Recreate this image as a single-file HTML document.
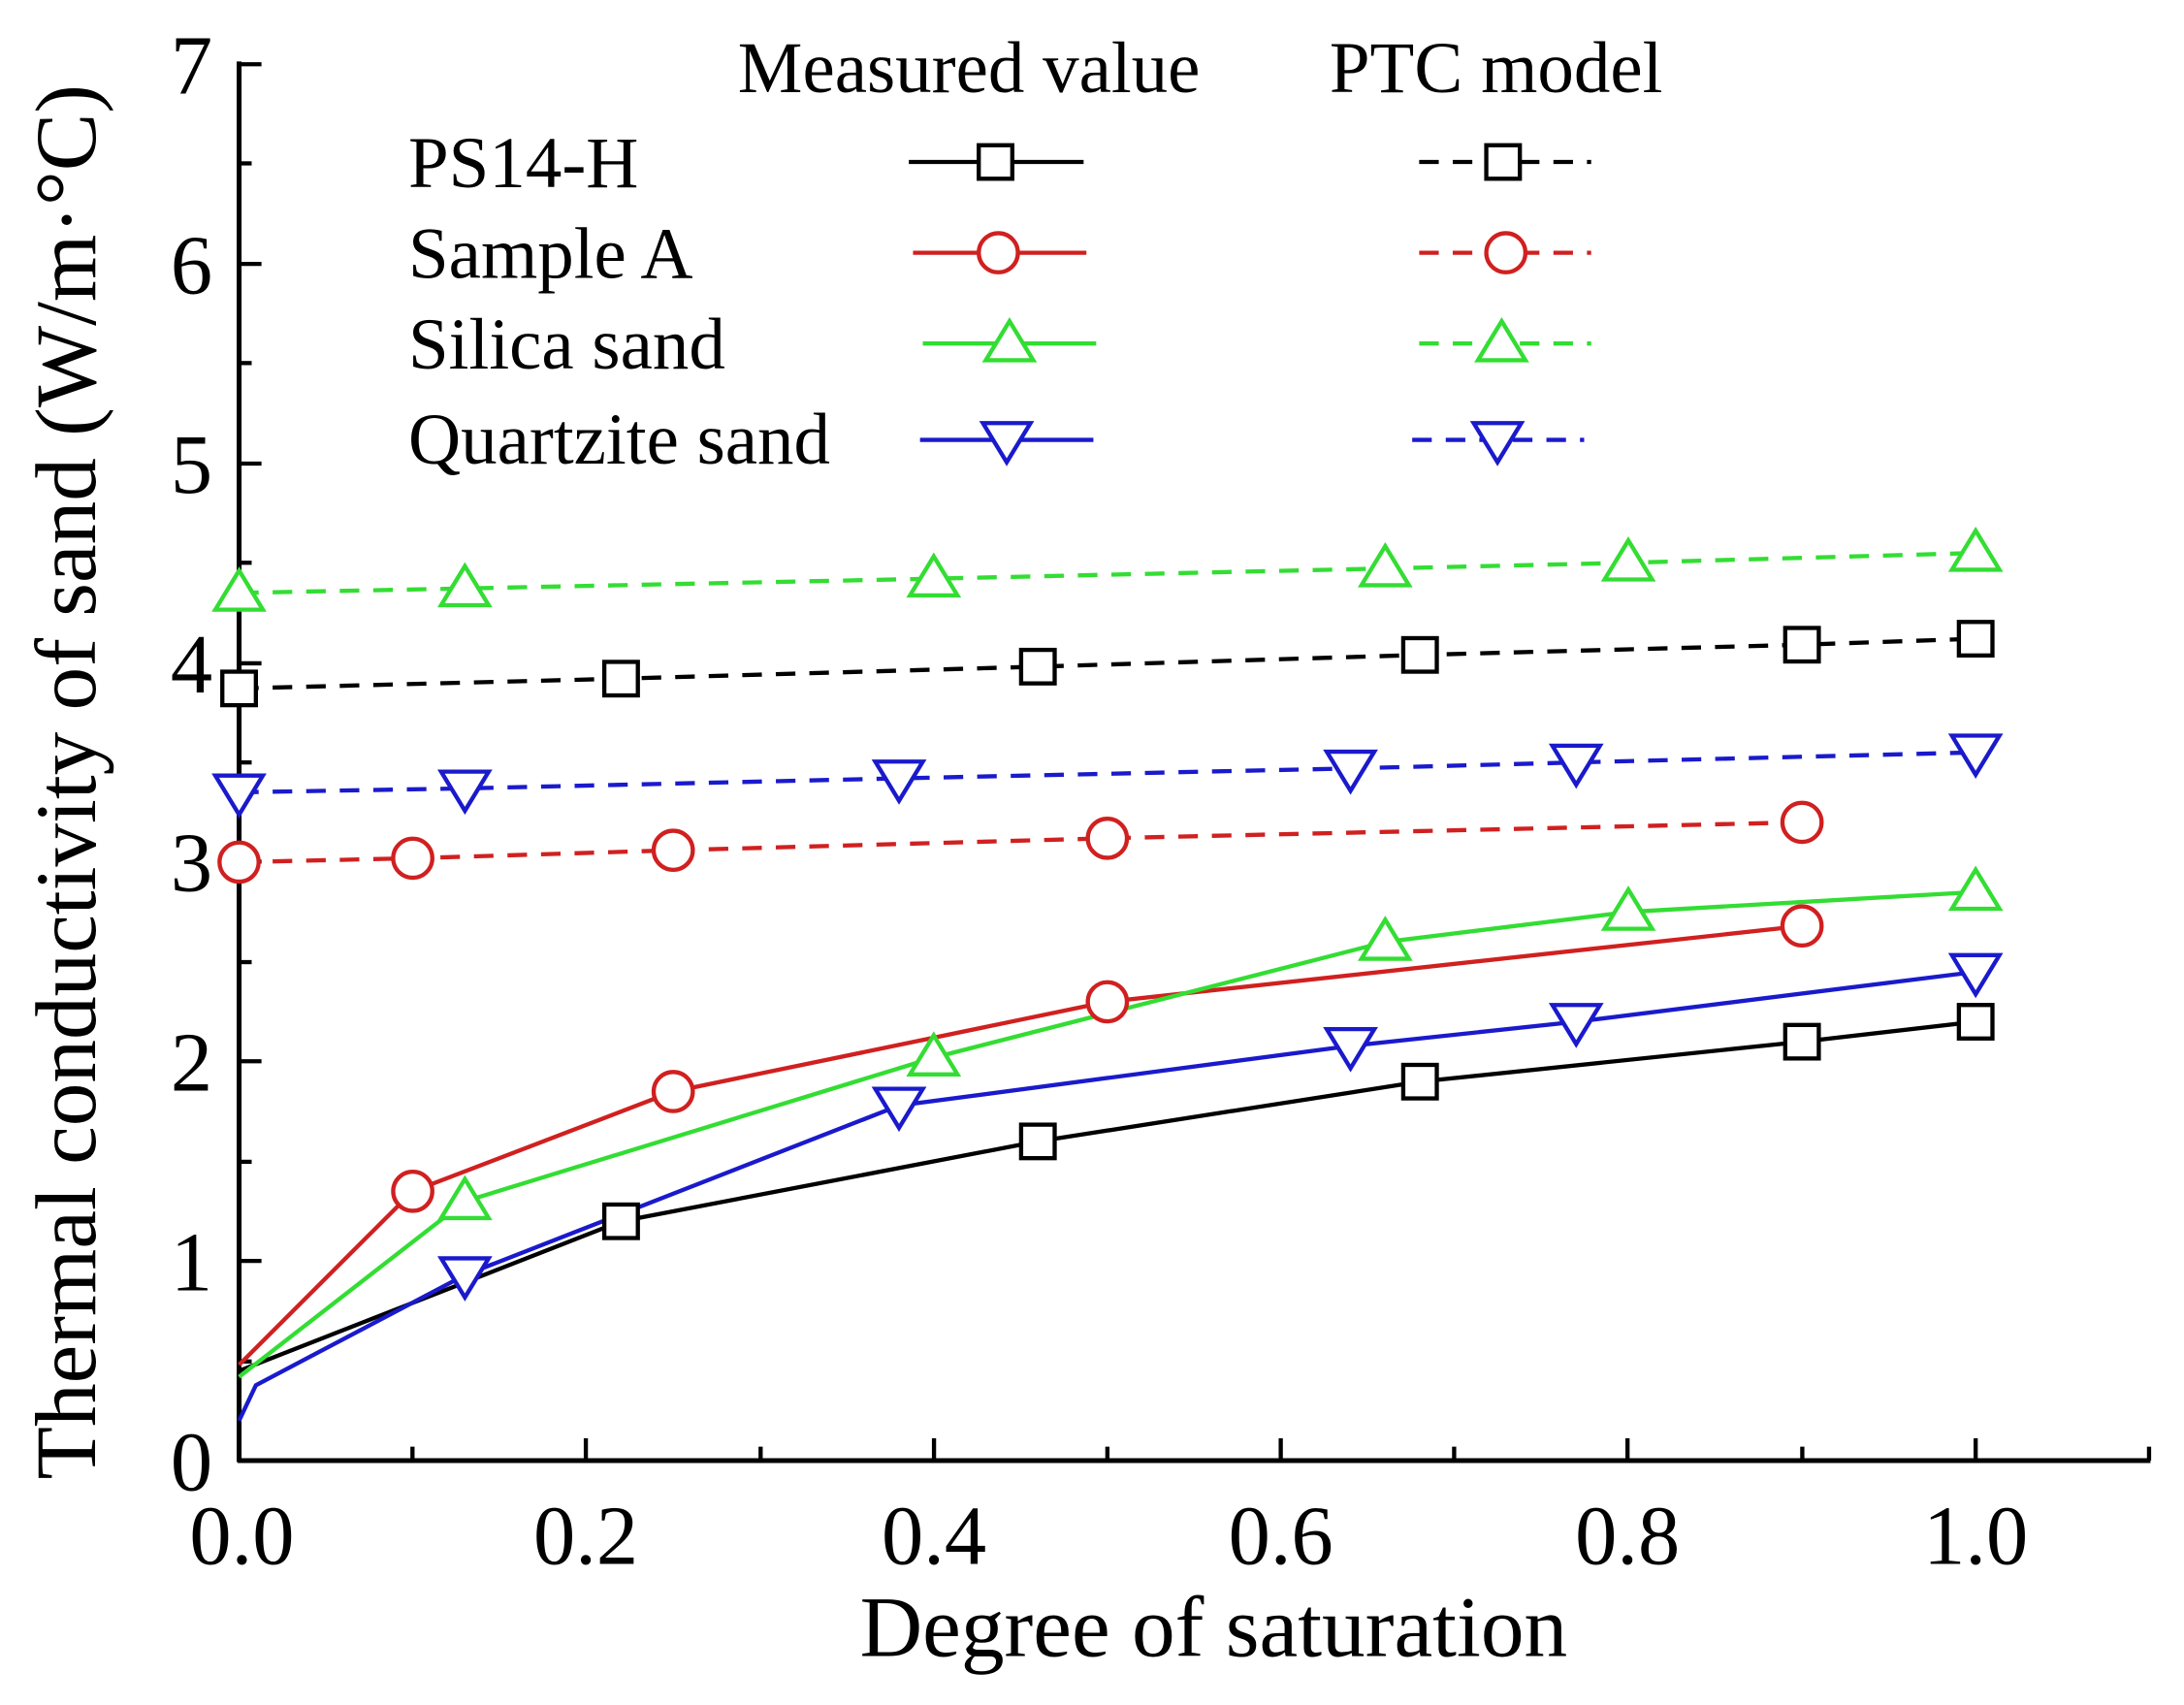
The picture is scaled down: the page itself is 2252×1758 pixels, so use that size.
<!DOCTYPE html>
<html><head><style>html,body{margin:0;padding:0;background:#fff}svg{display:block}</style></head><body>
<svg width="2252" height="1758" viewBox="0 0 1562 1221" preserveAspectRatio="none" xmlns="http://www.w3.org/2000/svg" font-family="Liberation Serif, serif">
<defs>
<g id="sq"><rect x="-12" y="-12" width="24" height="24" fill="#fff" stroke-width="3"/></g>
<g id="ci"><circle r="14" fill="#fff" stroke-width="3"/></g>
<g id="tu"><polygon points="0,-16 17,12 -17,12" fill="#fff" stroke-width="3"/></g>
<g id="td"><polygon points="0,16 17,-12 -17,-12" fill="#fff" stroke-width="3"/></g>
</defs>
<g stroke="#000" stroke-width="3.5" fill="none">
<line x1="171" y1="44" x2="171" y2="1047"/>
<line x1="170" y1="1046" x2="1538" y2="1046"/>
</g>
<g stroke="#000" stroke-width="3">
<line x1="171" y1="46" x2="187" y2="46"/><line x1="171" y1="189" x2="187" y2="189"/><line x1="171" y1="332" x2="187" y2="332"/><line x1="171" y1="475" x2="187" y2="475"/><line x1="171" y1="617" x2="187" y2="617"/><line x1="171" y1="760" x2="187" y2="760"/><line x1="171" y1="903" x2="187" y2="903"/>
<line x1="171" y1="117" x2="180" y2="117"/><line x1="171" y1="260" x2="180" y2="260"/><line x1="171" y1="403" x2="180" y2="403"/><line x1="171" y1="546" x2="180" y2="546"/><line x1="171" y1="689" x2="180" y2="689"/><line x1="171" y1="832" x2="180" y2="832"/><line x1="171" y1="975" x2="180" y2="975"/>
<line x1="419" y1="1046" x2="419" y2="1030"/><line x1="668" y1="1046" x2="668" y2="1030"/><line x1="916" y1="1046" x2="916" y2="1030"/><line x1="1164" y1="1046" x2="1164" y2="1030"/><line x1="1413" y1="1046" x2="1413" y2="1030"/>
<line x1="295" y1="1046" x2="295" y2="1036"/><line x1="544" y1="1046" x2="544" y2="1036"/><line x1="792" y1="1046" x2="792" y2="1036"/><line x1="1040" y1="1046" x2="1040" y2="1036"/><line x1="1289" y1="1046" x2="1289" y2="1036"/><line x1="1537" y1="1046" x2="1537" y2="1036"/>
</g>
<g font-size="60" text-anchor="end">
<text x="152" y="67">7</text><text x="152" y="210">6</text><text x="152" y="353">5</text><text x="152" y="496">4</text><text x="152" y="638">3</text><text x="152" y="781">2</text><text x="152" y="924">1</text><text x="152" y="1067">0</text>
</g>
<g font-size="60" text-anchor="middle">
<text x="173" y="1120">0.0</text><text x="419" y="1120">0.2</text><text x="668" y="1120">0.4</text><text x="916" y="1120">0.6</text><text x="1164" y="1120">0.8</text><text x="1413" y="1120">1.0</text>
</g>
<text x="868" y="1186" font-size="62" text-anchor="middle">Degree of saturation</text>
<text transform="translate(68,560) rotate(-90)" font-size="62" text-anchor="middle">Thermal conductivity of sand (W/m·°C)</text>
<g font-size="52">
<text x="693" y="66" text-anchor="middle">Measured value</text>
<text x="1070" y="66" text-anchor="middle">PTC model</text>
<text x="292" y="134">PS14-H</text>
<text x="292" y="199">Sample A</text>
<text x="292" y="264">Silica sand</text>
<text x="292" y="332">Quartzite sand</text>
</g>
<g stroke-width="3" fill="none">
<line x1="650" y1="116" x2="775" y2="116" stroke="#000"/>
<line x1="1015" y1="116" x2="1138" y2="116" stroke="#000" stroke-dasharray="14,10"/>
<line x1="653" y1="181" x2="777" y2="181" stroke="#d02020"/>
<line x1="1015" y1="181" x2="1138" y2="181" stroke="#d02020" stroke-dasharray="14,10"/>
<line x1="660" y1="246" x2="784" y2="246" stroke="#33dd33"/>
<line x1="1015" y1="246" x2="1138" y2="246" stroke="#33dd33" stroke-dasharray="14,10"/>
<line x1="658" y1="315" x2="782" y2="315" stroke="#1a1acc"/>
<line x1="1010" y1="315" x2="1133" y2="315" stroke="#1a1acc" stroke-dasharray="14,10"/>
</g>
<use href="#sq" x="712" y="116" stroke="#000"/><use href="#sq" x="1075" y="116" stroke="#000"/>
<use href="#ci" x="714" y="181" stroke="#d02020"/><use href="#ci" x="1077" y="181" stroke="#d02020"/>
<use href="#tu" x="722" y="246" stroke="#33dd33"/><use href="#tu" x="1074" y="246" stroke="#33dd33"/>
<use href="#td" x="720" y="315" stroke="#1a1acc"/><use href="#td" x="1071" y="315" stroke="#1a1acc"/>
<g fill="none" stroke-width="3">
<polyline stroke="#33dd33" stroke-dasharray="14,10" points="171,424.6 332.5,421.4 667.8,414.4 990.7,407.1 1164.6,403 1413,396"/>
<polyline stroke="#000" stroke-dasharray="14,10" points="171,493 444.2,486 742.3,477.4 1015.6,469 1288.8,461.7 1413,457.4"/>
<polyline stroke="#1a1acc" stroke-dasharray="14,10" points="171,567.4 332.5,564.6 643,557.4 965.9,550.3 1127.3,546 1413,538.8"/>
<polyline stroke="#d02020" stroke-dasharray="14,10" points="171,617.4 295.2,614.6 481.5,608.9 792,600.3 1288.8,588.9"/>
<polyline stroke="#000" points="171,981.7 444.2,874.6 742.3,817.4 1015.6,774.6 1288.8,746 1413,731.7"/>
<polyline stroke="#d02020" points="171,977.4 295.2,853.1 481.5,781.7 792,717.4 1288.8,663.1"/>
<polyline stroke="#33dd33" points="171,986 332.5,860.3 667.8,757.4 990.7,674.6 1164.6,653.1 1413,638.8"/>
<polyline stroke="#1a1acc" points="171,1017.4 183,992 332.5,913.1 643,791.7 965.9,749 1127.3,731.7 1413,696"/>
</g>
<g stroke="#33dd33"><use href="#tu" x="171" y="424.6"/><use href="#tu" x="332.5" y="421.4"/><use href="#tu" x="667.8" y="414.4"/><use href="#tu" x="990.7" y="407.1"/><use href="#tu" x="1164.6" y="403"/><use href="#tu" x="1413" y="396"/></g>
<g stroke="#000"><use href="#sq" x="171" y="493"/><use href="#sq" x="444.2" y="486"/><use href="#sq" x="742.3" y="477.4"/><use href="#sq" x="1015.6" y="469"/><use href="#sq" x="1288.8" y="461.7"/><use href="#sq" x="1413" y="457.4"/></g>
<g stroke="#1a1acc"><use href="#td" x="171" y="567.4"/><use href="#td" x="332.5" y="564.6"/><use href="#td" x="643" y="557.4"/><use href="#td" x="965.9" y="550.3"/><use href="#td" x="1127.3" y="546"/><use href="#td" x="1413" y="538.8"/></g>
<g stroke="#d02020"><use href="#ci" x="171" y="617.4"/><use href="#ci" x="295.2" y="614.6"/><use href="#ci" x="481.5" y="608.9"/><use href="#ci" x="792" y="600.3"/><use href="#ci" x="1288.8" y="588.9"/></g>
<g stroke="#000"><use href="#sq" x="444.2" y="874.6"/><use href="#sq" x="742.3" y="817.4"/><use href="#sq" x="1015.6" y="774.6"/><use href="#sq" x="1288.8" y="746"/><use href="#sq" x="1413" y="731.7"/></g>
<g stroke="#d02020"><use href="#ci" x="295.2" y="853.1"/><use href="#ci" x="481.5" y="781.7"/><use href="#ci" x="792" y="717.4"/><use href="#ci" x="1288.8" y="663.1"/></g>
<g stroke="#33dd33"><use href="#tu" x="332.5" y="860.3"/><use href="#tu" x="667.8" y="757.4"/><use href="#tu" x="990.7" y="674.6"/><use href="#tu" x="1164.6" y="653.1"/><use href="#tu" x="1413" y="638.8"/></g>
<g stroke="#1a1acc"><use href="#td" x="332.5" y="913.1"/><use href="#td" x="643" y="791.7"/><use href="#td" x="965.9" y="749"/><use href="#td" x="1127.3" y="731.7"/><use href="#td" x="1413" y="696"/></g>
</svg>
</body></html>
